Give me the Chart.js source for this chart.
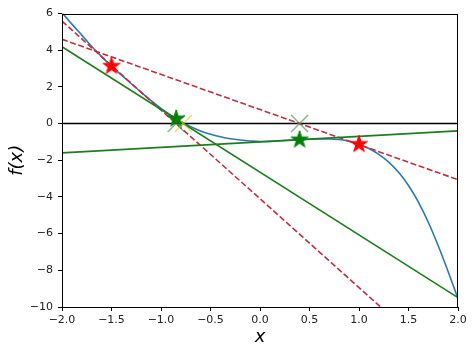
<!DOCTYPE html>
<html>
<head>
<meta charset="utf-8">
<script src="https://cdn.jsdelivr.net/npm/chart.js@4.4.1/dist/chart.umd.min.js"></script>
<style>
  html, body { margin: 0; padding: 0; background: #fff; }
  #wrap { width: 474px; height: 354px; }
</style>
</head>
<body>
<div id="wrap"><canvas id="chart" width="474" height="354"></canvas></div>
<script>
// curve f(x)
const curveX = [-2.0, -1.9, -1.8, -1.7, -1.6, -1.5, -1.4, -1.3, -1.2, -1.1, -1.0, -0.9, -0.847, -0.8, -0.7, -0.6, -0.5, -0.4, -0.3, -0.2, -0.1,
  0.0, 0.1, 0.2, 0.3, 0.4, 0.5, 0.6, 0.7, 0.8, 0.9, 1.0, 1.1, 1.2, 1.3, 1.4, 1.5, 1.6, 1.7, 1.8, 1.9, 2.0];
const curveY = [6.05, 5.42, 4.82, 4.2, 3.65, 3.13, 2.65, 2.17, 1.7, 1.25, 0.83, 0.45, 0.26, 0.11, -0.17, -0.4, -0.58, -0.72, -0.83, -0.9, -0.95,
  -0.98, -0.97, -0.94, -0.91, -0.88, -0.855, -0.84, -0.84, -0.87, -0.96, -1.13, -1.36, -1.68, -2.1, -2.66, -3.38, -4.28, -5.38, -6.66, -8.06, -9.55];

// straight lines, values at x = -2 and x = 2
const lineX = [-2, 2];
const zeroLine = [0, 0];
const redLineA = [5.58, -13.78];   // tangent at x = -1.5
const redLineB = [4.59, -3.06];    // tangent at x = 1
const greenLineA = [4.19, -9.49];  // tangent at x = -0.847
const greenLineB = [-1.6, -0.4];   // tangent at x = 0.4

// markers
const redStarX = [-1.5, 1.0];
const redStarY = [3.13, -1.13];
const greenStarX = [-0.847, 0.4];
const greenStarY = [0.26, -0.88];
const greenCrossX = [-0.847, 0.4];
const yellowCrossX = [-0.774];

const xTicks = [-2.0, -1.5, -1.0, -0.5, 0.0, 0.5, 1.0, 1.5, 2.0];
const yTicks = [-10, -8, -6, -4, -2, 0, 2, 4, 6];

const pts = (xs, ys) => xs.map((x, i) => ({ x: x, y: ys[i] }));
const minus = s => s.replace("-", "\u2212");

function makeStar(color, r) {
  const size = Math.ceil(r * 2 + 4);
  const c = document.createElement("canvas");
  c.width = size;
  c.height = size;
  const g = c.getContext("2d");
  const cx = size / 2, cy = size / 2, inner = r * 0.381966;
  g.beginPath();
  for (let i = 0; i < 10; i++) {
    const rad = i % 2 === 0 ? r : inner;
    const a = -Math.PI / 2 + i * Math.PI / 5;
    const px = cx + rad * Math.cos(a), py = cy + rad * Math.sin(a);
    if (i === 0) g.moveTo(px, py); else g.lineTo(px, py);
  }
  g.closePath();
  g.fillStyle = color;
  g.fill();
  g.strokeStyle = color;
  g.lineWidth = 1;
  g.stroke();
  return c;
}

const frame = {
  id: "frame",
  afterDraw(chart) {
    const { ctx, chartArea: a } = chart;
    ctx.save();
    ctx.strokeStyle = "#000";
    ctx.lineWidth = 1;
    ctx.strokeRect(Math.round(a.left) + 0.5, Math.round(a.top) + 0.5,
      Math.round(a.right - a.left) - 1, Math.round(a.bottom - a.top) - 1);
    ctx.restore();
  }
};

const lineSet = (ys, color, dash, order) => ({
  data: pts(lineX, ys),
  showLine: true,
  borderColor: color,
  borderWidth: 1.6,
  borderDash: dash,
  pointRadius: 0,
  order: order
});

const tickFont = { family: "DejaVu Sans", size: 11 };
const titleFont = { family: "DejaVu Sans", size: 18, style: "italic" };

new Chart(document.getElementById("chart"), {
  type: "scatter",
  data: {
    datasets: [
      {
        data: pts(curveX, curveY),
        showLine: true,
        borderColor: "#2b79b3",
        borderWidth: 1.6,
        pointRadius: 0,
        cubicInterpolationMode: "monotone",
        order: 9
      },
      lineSet(zeroLine, "#000000", [], 8),
      lineSet(redLineA, "#c2303f", [6, 2.6], 7),
      lineSet(redLineB, "#c2303f", [6, 2.6], 7),
      lineSet(greenLineA, "#1d7d1d", [], 6),
      lineSet(greenLineB, "#1d7d1d", [], 6),
      {
        data: pts(greenCrossX, greenCrossX.map(() => 0)),
        pointStyle: "crossRot",
        pointRadius: 12,
        borderColor: "rgba(60,135,60,0.6)",
        borderWidth: 1.5,
        order: 3
      },
      {
        data: pts(yellowCrossX, yellowCrossX.map(() => 0)),
        pointStyle: "crossRot",
        pointRadius: 12,
        borderColor: "rgba(205,205,40,0.6)",
        borderWidth: 1.5,
        order: 2
      },
      {
        data: pts(redStarX, redStarY),
        pointStyle: makeStar("#ff0000", 9),
        order: 1
      },
      {
        data: pts(greenStarX, greenStarY),
        pointStyle: makeStar("#008000", 9),
        order: 0
      }
    ]
  },
  options: {
    responsive: false,
    animation: false,
    devicePixelRatio: 1,
    layout: { padding: { top: 12, right: 16, left: 0, bottom: 0 } },
    plugins: { legend: { display: false }, tooltip: { enabled: false } },
    scales: {
      x: {
        type: "linear",
        min: -2,
        max: 2,
        afterBuildTicks: s => { s.ticks = xTicks.map(v => ({ value: v })); },
        afterFit: s => { s.height = 47; },
        ticks: {
          font: tickFont,
          color: "#222",
          padding: 3,
          maxRotation: 0,
          callback: v => minus(v.toFixed(1))
        },
        grid: { drawOnChartArea: false, drawTicks: true, tickLength: 4, tickColor: "#000" },
        border: { display: false },
        title: { display: true, text: "x", font: titleFont, color: "#000", padding: { top: 0, bottom: 6 } }
      },
      y: {
        type: "linear",
        min: -10,
        max: 6,
        afterBuildTicks: s => { s.ticks = yTicks.map(v => ({ value: v })); },
        afterFit: s => { s.width = 62; },
        ticks: {
          font: tickFont,
          color: "#222",
          padding: 5,
          callback: v => minus(String(v))
        },
        grid: { drawOnChartArea: false, drawTicks: true, tickLength: 4, tickColor: "#000" },
        border: { display: false },
        title: { display: true, text: "f(x)", font: titleFont, color: "#000", padding: { top: 7, bottom: 0 } }
      }
    }
  },
  plugins: [frame]
});
</script>
</body>
</html>
